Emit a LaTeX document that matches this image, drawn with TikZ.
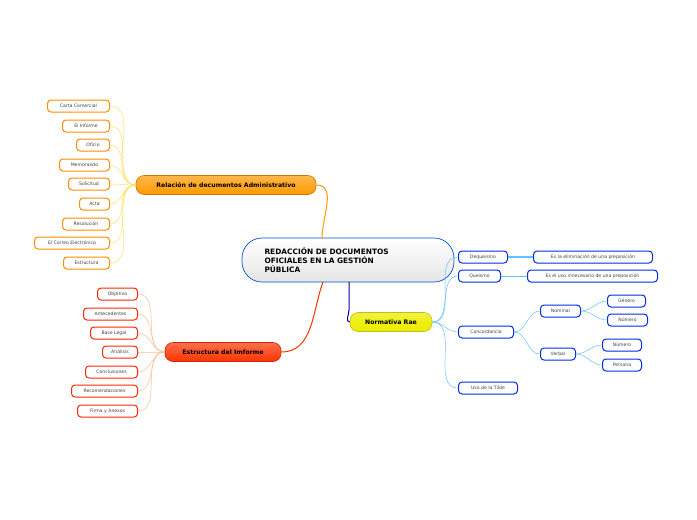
\documentclass[tikz,border=0pt]{standalone}
\usepackage{fontspec}
\setmainfont{DejaVu Sans}
\begin{document}
\begin{tikzpicture}[x=1pt,y=-1pt,
 leaf/.style={draw=#1,line width=1pt,rounded corners=3.5pt,fill=white,minimum height=12pt,inner xsep=2pt,inner ysep=0pt,font=\fontsize{4.6}{5}\selectfont,text=black!75},
 main/.style={draw=#1!80!black,line width=0.6pt,rounded corners=8pt,top color=#1!70,bottom color=#1,minimum height=19pt,inner ysep=0pt,font=\fontsize{6.2}{7}\bfseries\selectfont},
 con/.style={draw=#1,line width=0.5pt}]
\useasboundingbox (0,0) rectangle (697,520);
% central
\node[draw=blue!60!cyan!80!black,line width=0.7pt,rounded corners=20pt,top color=white,bottom color=gray!20,minimum width=212pt,minimum height=44pt] (c) at (348,260) {};
\node[anchor=west,align=left,font=\fontsize{7.4}{8.8}\bfseries\selectfont] at (261,260) {REDACCIÓN DE DOCUMENTOS\\OFICIALES EN LA GESTIÓN\\PÚBLICA};
% main
\node[main=orange!80!yellow,minimum width=180pt] (r) at (226,185) {Relación de decumentos Administrativo};
\node[main=red!60!orange,minimum width=116pt] (e) at (223,352) {Estructura del Imforme};
\node[main=yellow!85!olive,minimum width=82pt] (n) at (391,322) {Normativa Rae};
\draw[orange!80!yellow,line width=1pt] (322,238) to[out=90,in=0] (r.east);
\draw[red!60!orange,line width=1pt] (323,282) to[out=-110,in=0] (e.east);
\draw[blue!70!black,line width=1pt] (349,282) -- (349,310) to[out=-90,in=180] (n.west);
% left leaves
\foreach \t/\x/\y [count=\i] in {Carta Comercial/48/106,El Informe/63/126,Oficio/77/145,Memorando/60/165,Solicitud/69/184,Acta/80/204,Resolución/63/224,El Correo Electrónico/35/243,Estructura/64/263}{
 \node[leaf=orange!90!yellow,minimum width={110-\x},anchor=east] (a\i) at (110,\y) {\t};
 \draw[con=orange!40!yellow!60] (a\i.east) to[out=0,in=180] (r.west);}
\foreach \t/\x/\y [count=\i] in {Objetivo/98/294,Antecedentes/84/314,Base Legal/91/333,Análisis/103/352,Conclusiones/86/372,Recomendaciones/72/391,Firma y Anexos/78/411}{
 \node[leaf=red!70!orange,minimum width={138-\x},anchor=east] (b\i) at (138,\y) {\t};
 \draw[con=red!30!orange!40] (b\i.east) to[out=0,in=180] (e.west);}
% right
\tikzset{bl/.style={leaf=blue!80!cyan!90!black}}
\node[bl,minimum width=49pt,anchor=west] (d) at (458,257) {Dequeismo};
\node[bl,minimum width=42pt,anchor=west] (q) at (458,276) {Queismo};
\node[bl,minimum width=55pt,anchor=west] (k) at (458,332) {Concordancia};
\node[bl,minimum width=59pt,anchor=west] (u) at (458,388) {Uso de la Tilde};
\node[bl,minimum width=119pt,anchor=west] (d1) at (533,257) {Es la eliminación de una preposición};
\node[bl,minimum width=130pt,anchor=west] (q1) at (527,276) {Es el uso innecesario de una preposición};
\node[bl,minimum width=40pt,anchor=west] (no) at (540,311) {Nominal};
\node[bl,minimum width=35pt,anchor=west] (ve) at (540,354) {Verbal};
\node[bl,minimum width=38pt,anchor=west] (g) at (607,301) {Género};
\node[bl,minimum width=40pt,anchor=west] (nu1) at (607,320) {Número};
\node[bl,minimum width=39pt,anchor=west] (nu2) at (602,345) {Número};
\node[bl,minimum width=39pt,anchor=west] (p) at (602,365) {Persona};
\foreach \a in {d,q,k,u} \draw[con=blue!40!cyan!60] (n.east) to[out=0,in=180] (\a.west);
\draw[con=blue!40!cyan!60,line width=1.2pt] (d.east) -- (d1.west);
\draw[con=blue!40!cyan!60] (q.east) -- (q1.west);
\foreach \a in {no,ve} \draw[con=blue!40!cyan!60] (k.east) to[out=0,in=180] (\a.west);
\foreach \a in {g,nu1} \draw[con=blue!40!cyan!60] (no.east) to[out=0,in=180] (\a.west);
\foreach \a in {nu2,p} \draw[con=blue!40!cyan!60] (ve.east) to[out=0,in=180] (\a.west);
\end{tikzpicture}
\end{document}
